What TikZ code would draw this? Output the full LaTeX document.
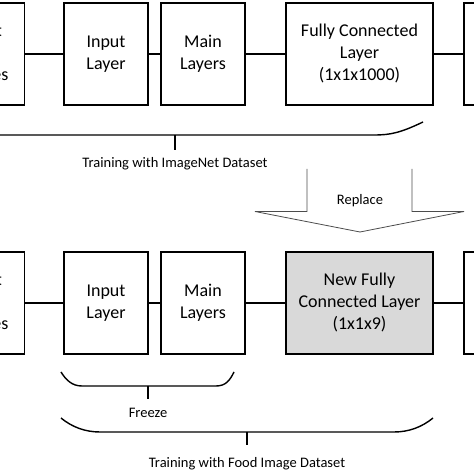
\documentclass[tikz,border=0pt]{standalone}
\usepackage{fontspec}
\setmainfont{Carlito}
\usetikzlibrary{positioning}

\begin{document}
\begin{tikzpicture}[x=1pt, y=1pt,
    box/.style={rectangle, draw, line width=1.3pt, minimum width=84pt, minimum height=102pt, align=center, inner sep=2pt, outer sep=0pt, font=\fontsize{18}{22}\selectfont},
    newbox/.style={box, fill=black!15},
    lbl/.style={font=\fontsize{14.5}{17}\selectfont, inner sep=0pt},
    link/.style={line width=1.2pt},
    brace/.style={line width=1.4pt},
    bigarrow/.style={line width=0.8pt, draw=black!70}]
    \useasboundingbox (0,0) rectangle (474,474);
    \clip (0,0) rectangle (474,474);

    % ImageNet network
    \node [box] (leftA) at (-17.5,420) {Input\\[22pt]Images};
    \node [box, right=39.5pt of leftA] (inputA) {Input\\Layer};
    \node [box, right=13pt of inputA] (mainA) {Main\\Layers};
    \node [box, minimum width=147pt, right=41pt of mainA] (fcA) {Fully Connected\\Layer\\(1x1x1000)};
    \node [box, right=31pt of fcA] (rightA) {};

    \draw [link] (leftA) -- (inputA);
    \draw [link] (inputA) -- (mainA);
    \draw [link] (mainA) -- (fcA);
    \draw [link] (fcA) -- (rightA);

    % food network
    \node [box] (leftB) at (-17.5,171) {Input\\[22pt]Images};
    \node [box, right=39.5pt of leftB] (inputB) {Input\\Layer};
    \node [box, right=13pt of inputB] (mainB) {Main\\Layers};
    \node [newbox, minimum width=147pt, right=41pt of mainB] (fcB) {New Fully\\Connected Layer\\(1x1x9)};
    \node [box, right=31pt of fcB] (rightB) {};

    \draw [link] (leftB) -- (inputB);
    \draw [link] (inputB) -- (mainB);
    \draw [link] (mainB) -- (fcB);
    \draw [link] (fcB) -- (rightB);

    % braces
    \draw [brace] (-73,352) .. controls (-50,341) and (-40,339) .. (-24,339) -- (374,339) .. controls (390,339) and (400,341) .. (423,352);
    \coordinate (midA) at (175,339);
    \coordinate (tickA) at (175,324);
    \draw [brace] (midA) -- (tickA);
    \node [lbl, anchor=base] (trainA) at (175,306) {Training with ImageNet Dataset};

    \draw [brace] (61,102) .. controls (66,94) and (72,88) .. (82,88) -- (216,88) .. controls (226,88) and (230,94) .. (234,102);
    \coordinate (midF) at (148,88);
    \coordinate (tickF) at (148,75);
    \draw [brace] (midF) -- (tickF);
    \node [lbl, anchor=base] (freeze) at (148,56) {Freeze};

    \draw [brace] (61,56) .. controls (72,47) and (85,42) .. (100,42) -- (394,42) .. controls (409,42) and (422,47) .. (433,56);
    \coordinate (midB) at (247,42);
    \coordinate (tickB) at (247,29);
    \draw [brace] (midB) -- (tickB);
    \node [lbl, anchor=base] (trainB) at (247,6) {Training with Food Image Dataset};

    % replace arrow
    \draw [bigarrow] (307,305) -- (307,262.5) -- (255,262.5) -- (360,242) -- (464,262.5) -- (412,262.5) -- (412,305);
    \node [lbl, anchor=base] (replace) at (360,269) {Replace};
\end{tikzpicture}
\end{document}
